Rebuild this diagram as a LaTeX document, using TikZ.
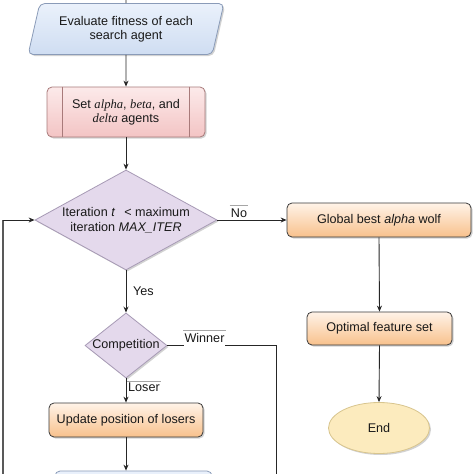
\documentclass[tikz,border=0pt]{standalone}
\usepackage{fontspec}
\setmainfont{Liberation Sans}
\newfontfamily\serifit{Liberation Serif}[ItalicFont={Liberation Serif Italic}]
\usetikzlibrary{shapes.geometric,shadows,arrows.meta}
\definecolor{blueT}{HTML}{EAF1FB}
\definecolor{blueB}{HTML}{CFDDF2}
\definecolor{blueD}{HTML}{8A9BB8}
\definecolor{pinkT}{HTML}{FCEAEA}
\definecolor{pinkB}{HTML}{F3C4C4}
\definecolor{pinkD}{HTML}{A87A7A}
\definecolor{orT}{HTML}{FFF3E8}
\definecolor{orB}{HTML}{F8C18C}
\definecolor{orD}{HTML}{3A3A3A}
\definecolor{purF}{HTML}{E4D9EC}
\definecolor{purD}{HTML}{A79AB5}
\definecolor{yelF}{HTML}{FCEBBE}
\definecolor{yelD}{HTML}{D8C58E}
\tikzset{
  every node/.style={font=\fontsize{12.6}{14.5}\selectfont, text=black!90},
  shad/.style={drop shadow={opacity=0.35, shadow xshift=1.5pt, shadow yshift=-1.5pt}},
  parabox/.style={trapezium, trapezium left angle=71, trapezium right angle=109,
    trapezium stretches=true, draw=blueD, line width=0.8pt, rounded corners=5pt,
    top color=blueT, bottom color=blueB, shad, align=center, inner sep=0pt},
  pinkbox/.style={rectangle, draw=pinkD, line width=0.8pt, rounded corners=5pt,
    top color=pinkT, bottom color=pinkB, shad, align=center, inner sep=0pt},
  orbox/.style={rectangle, draw=orD, line width=0.8pt, rounded corners=5pt,
    top color=orT, bottom color=orB, shad, align=center, inner sep=0pt},
  bluebox/.style={rectangle, draw=blueD, line width=0.8pt, rounded corners=5pt,
    top color=blueT, bottom color=blueB, shad, inner sep=0pt},
  decis/.style={diamond, draw=purD, line width=0.8pt, fill=purF, shad,
    align=center, inner sep=0pt},
  endnode/.style={ellipse, draw=yelD, line width=0.8pt, fill=yelF, shad, inner sep=0pt},
  conn/.style={draw=black!85, line width=0.9pt},
  arr/.style={conn, -{Stealth[length=6pt,width=5pt]}},
  lbl/.style={inner sep=1pt},
  lblbar/.style={lbl, fill=white, inner ysep=3pt},
}
\begin{document}
\begin{tikzpicture}[x=1pt,y=-1pt]
\clip (0,0) rectangle (474,474);
\fill[white] (0,0) rectangle (474,474);

% nodes
\node[parabox, minimum width=196pt, minimum height=51pt] (eval) at (126,29)
  {Evaluate fitness of each\\search agent};
\node[pinkbox, minimum width=158pt, minimum height=50pt] (set) at (126,112)
  {Set {\serifit\itshape alpha}, {\serifit\itshape beta}, and\\{\serifit\itshape delta} agents};
\draw[draw=pinkD, line width=0.8pt] ([xshift=16pt]set.north west) -- ([xshift=16pt]set.south west);
\draw[draw=pinkD, line width=0.8pt] ([xshift=-16pt]set.north east) -- ([xshift=-16pt]set.south east);
\node[decis, aspect=1.82, minimum width=182pt, minimum height=100pt] (iter) at (126,220)
  {Iteration \textit{t}\, \ < maximum\\iteration \textit{MAX\_ITER}};
\node[decis, aspect=1.26, minimum width=82pt, minimum height=65pt] (comp) at (126,345.5) {Competition};
\node[orbox, minimum width=154pt, minimum height=34pt] (upd) at (126,420) {Update position of losers};
\node[bluebox, minimum width=157pt, minimum height=38pt] (nxt) at (133.5,490) {};
\node[orbox, minimum width=184pt, minimum height=34pt] (glob) at (379,220) {Global best \textit{alpha} wolf};
\node[orbox, minimum width=145pt, minimum height=33pt] (opt) at (379.5,328.5) {Optimal feature set};
\node[endnode, minimum width=101pt, minimum height=51pt] (end) at (379,428) {End};

\coordinate (topin) at (126,-2);
\coordinate (winbend) at (276,345.5);
\coordinate (windown) at (276,480);
\coordinate (loopbot) at (3,480);
\coordinate (loopbend) at (3,220);

% connectors
\draw[conn] (topin) -- (eval.north);
\draw[arr] (eval.south) -- (set.north);
\draw[arr] (set.south) -- (iter.north);
\draw[arr] (iter.south) -- (comp.north);
\node[lbl] (yes) at (143.5,291) {Yes};
\draw[arr] (iter.east) -- (glob.west);
\node[lblbar] (no) at (239,213) {No};
\draw[black!35, line width=0.5pt] (no.north west) -- (no.north east);
\draw[arr] (glob.south) -- (opt.north);
\draw[arr] (opt.south) -- (end.north);
\draw[arr] (comp.south) -- (upd.north);
\node[lbl, anchor=west] (loser) at (127,387) {Loser};
\draw[black!35, line width=0.5pt] (loser.north west) -- (loser.north east);
\draw[arr] (upd.south) -- (upd.south |- nxt.north);
\draw[conn] (comp.east) -- (winbend) -- (windown);
\node[lblbar] (win) at (204.5,338) {Winner};
\draw[black!35, line width=0.5pt] (win.north west) -- (win.north east);
\draw[conn, draw=black!65, line width=1.8pt] (loopbot) -- (loopbend);
\draw[arr] (loopbend) -- (iter.west);
\end{tikzpicture}
\end{document}
